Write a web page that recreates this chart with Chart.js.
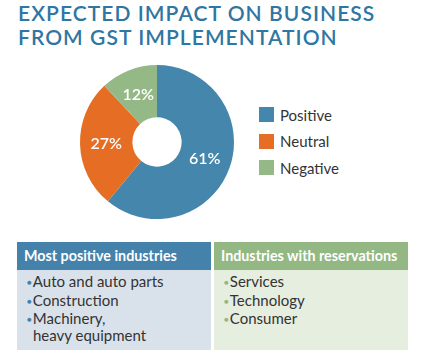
<!DOCTYPE html>
<html>
<head>
    <title>Expected impact on business</title>
    <script src="https://cdn.jsdelivr.net/npm/chart.js"></script>
    <style>
        body { margin: 0; width: 426px; height: 350px; background: #fff; font-family: Lato, sans-serif; position: relative; overflow: hidden; }
        h1 { position: absolute; left: 18px; top: 1px; margin: 0; font-size: 21px; line-height: 23.5px; font-weight: 600; color: #2f76a2; letter-spacing: 1.05px; white-space: nowrap; }
        #wrap { position: absolute; left: 77px; top: 62px; width: 160px; height: 160px; }
        #legend { position: absolute; left: 259px; top: 107px; }
        .item { height: 15px; margin-bottom: 11.5px; display: flex; align-items: center; font-size: 15px; color: #333; }
        .item span { width: 15px; height: 15px; margin-right: 6px; display: inline-block; }
        .box { position: absolute; top: 242px; width: 194px; height: 108px; }
        .box .hd { height: 28px; line-height: 28px; color: #fff; font-size: 14.3px; font-weight: 700; padding-left: 7px; white-space: nowrap; }
        .box ul { margin: 0; padding: 3px 0 0 10px; list-style: none; font-size: 15px; line-height: 17px; color: #333; }
        .box li { margin-bottom: 1.5px; padding-left: 6px; text-indent: -6px; }
        .box li i { font-style: normal; font-size: 8px; line-height: 0; position: relative; top: -2px; margin-right: 1px; }
    </style>
</head>
<body>
    <h1>EXPECTED IMPACT ON BUSINESS<br>FROM GST IMPLEMENTATION</h1>
    <div id="wrap"><canvas id="donut"></canvas></div>
    <div id="legend"></div>
    <div class="box" style="left:17px;background:#d9e2eb">
        <div class="hd" style="background:#4482ab">Most positive industries</div>
        <ul id="posList"></ul>
    </div>
    <div class="box" style="left:214px;background:#e6eedf">
        <div class="hd" style="background:#93b883">Industries with reservations</div>
        <ul id="resList"></ul>
    </div>
    <script>
    const labels = ['Positive', 'Neutral', 'Negative'];
    const values = [61, 27, 12];
    const colors = ['#4586ad', '#e56e24', '#95b986'];
    const positiveIndustries = ['Auto and auto parts', 'Construction', 'Machinery,<br>heavy equipment'];
    const reservedIndustries = ['Services', 'Technology', 'Consumer'];

    // white percentage labels in the middle of each ring segment
    const sliceLabels = {
        id: 'sliceLabels',
        afterDatasetsDraw(chart) {
            const ctx = chart.ctx;
            ctx.save();
            ctx.fillStyle = '#fff';
            ctx.font = '600 16px Lato';
            ctx.textAlign = 'center';
            ctx.textBaseline = 'middle';
            chart.getDatasetMeta(0).data.forEach((arc, i) => {
                const p = arc.tooltipPosition();
                ctx.fillText(values[i] + '%', p.x, p.y);
            });
            ctx.restore();
        }
    };

    new Chart(document.getElementById('donut'), {
        type: 'doughnut',
        data: {
            labels: labels,
            datasets: [{ data: values, backgroundColor: colors, borderWidth: 0 }]
        },
        options: {
            responsive: true,
            maintainAspectRatio: false,
            animation: false,
            cutout: '32%',
            layout: { padding: 3 },
            plugins: { legend: { display: false }, tooltip: { enabled: false } }
        },
        plugins: [sliceLabels]
    });

    const legend = document.getElementById('legend');
    labels.forEach((l, i) => {
        legend.innerHTML += `<div class="item"><span style="background:${colors[i]}"></span>${l}</div>`;
    });
    positiveIndustries.forEach(t => {
        document.getElementById('posList').innerHTML += `<li><i style="color:#4482ab">&#9679;</i>${t}</li>`;
    });
    reservedIndustries.forEach(t => {
        document.getElementById('resList').innerHTML += `<li><i style="color:#93b883">&#9679;</i>${t}</li>`;
    });
    </script>
</body>
</html>
